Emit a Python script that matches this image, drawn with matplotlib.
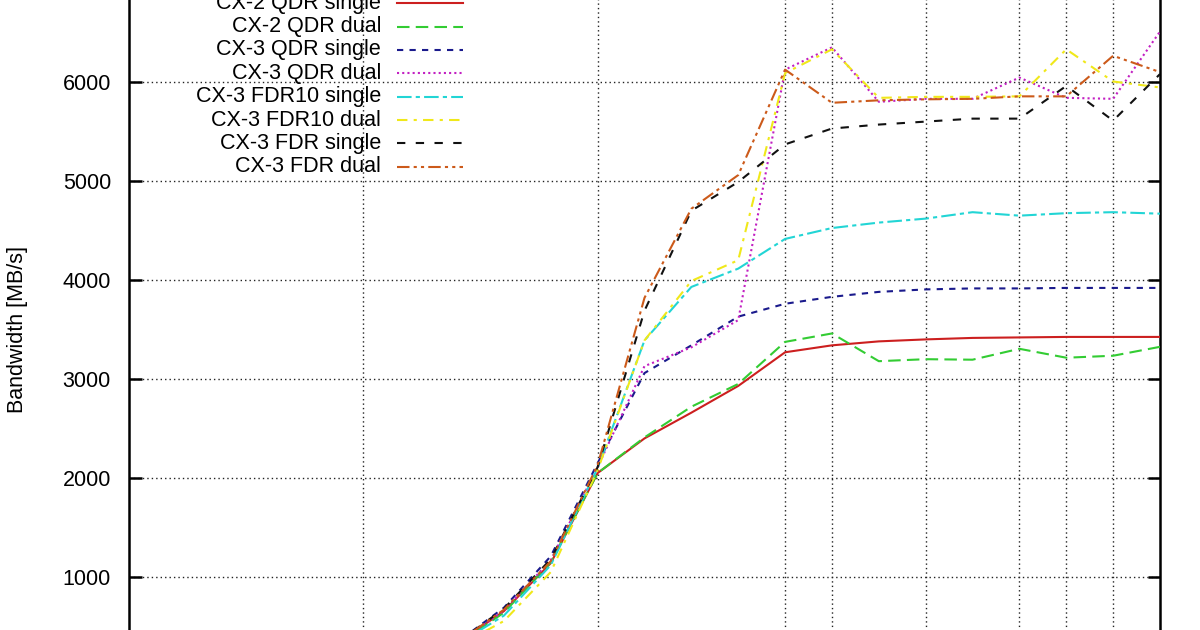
import matplotlib
matplotlib.use("Agg")
import matplotlib.pyplot as plt
from matplotlib.lines import Line2D
from matplotlib.ticker import FixedLocator, NullLocator, NullFormatter

plt.rcParams['font.family'] = ['Liberation Sans', 'DejaVu Sans']

# message sizes (bytes)
sizes = [128, 256, 512, 1024, 2048, 4096, 8192, 16384, 32768, 65536,
         131072, 262144, 524288, 1048576, 2097152, 4194304]

cx2_qdr_single = [330, 655, 1140, 2050, 2400, 2660, 2930, 3270, 3340, 3380, 3400, 3415, 3420, 3425, 3425, 3425]
cx2_qdr_dual = [320, 640, 1150, 2050, 2410, 2720, 2950, 3375, 3460, 3180, 3200, 3195, 3305, 3215, 3235, 3325]
cx3_qdr_single = [340, 690, 1210, 2150, 3060, 3340, 3630, 3760, 3830, 3880, 3905, 3915, 3915, 3920, 3920, 3920]
cx3_qdr_dual = [330, 660, 1170, 2110, 3130, 3320, 3595, 6125, 6350, 5800, 5830, 5830, 6045, 5840, 5830, 6510]
cx3_fdr10_single = [320, 610, 1120, 2100, 3390, 3930, 4115, 4415, 4525, 4580, 4620, 4685, 4650, 4675, 4685, 4670]
cx3_fdr10_dual = [300, 555, 1050, 2080, 3390, 3990, 4200, 6090, 6330, 5840, 5850, 5850, 5855, 6330, 6005, 5945]
cx3_fdr_single = [335, 680, 1180, 2110, 3690, 4700, 4990, 5370, 5530, 5570, 5600, 5630, 5630, 5960, 5610, 6080]
cx3_fdr_dual = [335, 670, 1160, 2130, 3820, 4720, 5060, 6125, 5790, 5815, 5825, 5830, 5855, 5855, 6265, 6100]

labels = ["CX-2 QDR single", "CX-2 QDR dual", "CX-3 QDR single", "CX-3 QDR dual",
          "CX-3 FDR10 single", "CX-3 FDR10 dual", "CX-3 FDR single", "CX-3 FDR dual"]
series = [cx2_qdr_single, cx2_qdr_dual, cx3_qdr_single, cx3_qdr_dual,
          cx3_fdr10_single, cx3_fdr10_dual, cx3_fdr_single, cx3_fdr_dual]

x_grid = [32, 1024, 16384, 32768, 131072, 524288, 1048576, 2097152]
y_ticks = [1000, 2000, 3000, 4000, 5000, 6000]

colors = ['#cc1f1f', '#33cc33', '#1a1a8c', '#c21fc2', '#22d5d5', '#f0e81a', '#111111', '#cc5a1a']
styles = ['-', (0, (6, 3)), (0, (3, 3)), (0, (1, 1.5)), (0, (7, 2, 2, 2)),
          (0, (5, 3, 1.5, 3)), (0, (4, 5)), (0, (6, 2, 1.5, 2, 1.5, 2))]

W, H = 1200, 630
fig = plt.figure(figsize=(12, 6.3), dpi=100)
ax = fig.add_axes([129 / W, -46 / H, 1031 / W, 693 / H])

for vals, c, ls in zip(series, colors, styles):
    ax.plot(sizes, vals, color=c, linestyle=ls, linewidth=1.5, zorder=3)

ax.set_xscale('log', base=2)
ax.set_xlim(1, 4194304)
ax.set_ylim(0, 7000)
ax.xaxis.set_major_locator(FixedLocator(x_grid))
ax.xaxis.set_minor_locator(NullLocator())
ax.xaxis.set_major_formatter(NullFormatter())
ax.set_yticks(y_ticks)

ax.grid(True, which='major', color='#222222', linestyle=(0, (1, 2.2)), linewidth=1.0, zorder=1)
ax.tick_params(axis='y', direction='in', length=9, width=1.8, right=True,
               labelsize=15.5, pad=13)
ax.tick_params(axis='x', direction='in', length=0)
for sp in ax.spines.values():
    sp.set_linewidth(1.8)

ax.set_ylabel("Bandwidth [MB/s]", fontsize=15.5)
ax.yaxis.set_label_coords((28 - 129) / 1031, 0.5)

# gnuplot-style legend: right-aligned text followed by line sample
legend_y = [3.3, 26.7, 50.0, 73.3, 96.7, 120.0, 143.3, 166.7]
for lab, c, ls, yy in zip(labels, colors, styles, legend_y):
    fy = 1 - yy / H
    fig.text(381 / W, fy, lab, ha='right', va='center', fontsize=15.5)
    fig.add_artist(Line2D([397 / W, 463 / W], [fy, fy], color=c, linestyle=ls,
                          linewidth=1.5, transform=fig.transFigure))

fig.savefig("out.png", dpi=100)
